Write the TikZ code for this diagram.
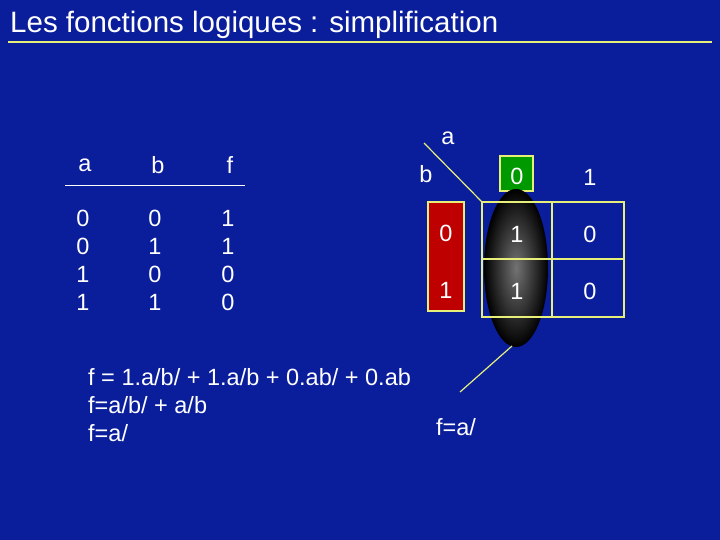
\documentclass[tikz,border=0pt]{standalone}
\usepackage{fontspec}
\setmainfont{Liberation Sans}
\begin{document}
\begin{tikzpicture}[x=1pt,y=-1pt,
 txt/.style={text=white,font=\fontsize{23.5}{26}\selectfont,inner sep=0pt},
 yl/.style={draw={rgb,255:red,230;green,240;blue,120},line width=1.5pt}]
\definecolor{bg}{RGB}{10,30,155}
\fill[bg] (0,0) rectangle (720,540);
\useasboundingbox (0,0) rectangle (720,540);
\node[anchor=west,text=white,font=\fontsize{29.5}{32}\selectfont,inner sep=0pt] (title) at (10,25) {Les fonctions logiques : simplification};
\draw[yl] (8,42) -- (712,42);
% truth table
\foreach \x/\t [count=\i] in {85/a,158/b,230/f} \node[txt] (h\i) at (\x,165) {\t};
\draw[white,line width=1pt] (65,186) -- (245,186);
\foreach \a/\b/\f [count=\r] in {0/0/1,0/1/1,1/0/0,1/1/0}{
 \node[txt] (ra\r) at (83,190+28*\r) {\a};
 \node[txt] (rb\r) at (155,190+28*\r) {\b};
 \node[txt] (rf\r) at (228,190+28*\r) {\f};}
% equations
\node[txt,anchor=west] (e1) at (88,377) {f = 1.a/b/ + 1.a/b + 0.ab/ + 0.ab};
\node[txt,anchor=west] (e2) at (88,405) {f=a/b/ + a/b};
\node[txt,anchor=west] (e3) at (88,433) {f=a/};
% karnaugh
\fill[red!75!black,draw={rgb,255:red,230;green,240;blue,120},line width=1.5pt] (428,202) rectangle (464,311);
\fill[green!60!black,draw={rgb,255:red,230;green,240;blue,120},line width=1.5pt] (500,156) rectangle (533,191);
\shade[inner color=black!55,outer color=black] (516,268) ellipse (32 and 79);
\draw[yl] (482,202) rectangle (624,317);
\draw[yl] (552,202) -- (552,317) (482,259) -- (624,259);
\coordinate (c1) at (424,143);
\coordinate (c2) at (482,202);
\draw[yl,line width=1.2pt] (c1) -- (c2);
\coordinate (c3) at (512,346);
\coordinate (c4) at (460,392);
\draw[yl,line width=1.2pt] (c3) -- (c4);
\node[txt] (ka) at (448,138) {a};
\node[txt] (kb) at (426,174) {b};
\node[txt] (k0) at (517,176) {0};
\node[txt] (k1) at (590,177) {1};
\node[txt] (kb0) at (446,233) {0};
\node[txt] (kb1) at (446,290) {1};
\node[txt] (m1) at (517,234) {1};
\node[txt] (m2) at (590,234) {0};
\node[txt] (m3) at (517,291) {1};
\node[txt] (m4) at (590,291) {0};
\node[txt] (res) at (456,427) {f=a/};
\end{tikzpicture}
\end{document}
